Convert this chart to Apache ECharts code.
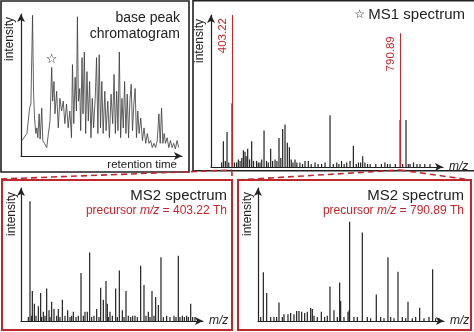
<!DOCTYPE html>
<html>
<head>
<meta charset="utf-8">
<script src="https://cdn.jsdelivr.net/npm/echarts@6/dist/echarts.min.js"></script>
<style>
html,body{margin:0;padding:0;background:#fff;}
#c{width:474px;height:332px;}
</style>
</head>
<body>
<div id="c"></div>
<script>
// ---- base peak chromatogram (retention time in arbitrary units, intensity in %) ----
const chromRT = [0,15,23,27,32,35,38,42,45,48,52,55,60,63,68,75,80,85,90,93,97,100,105,110,115,120,125,130,135,140,145,150,153,157,161,165,168,171,175,178,182,185,189,193,197,201,205,209,213,217,222,226,230,234,238,242,246,251,255,260,265,270,275,279,283,287,291,295,299,303,307,311,315,319,323,327,331,335,339,343,347,351,355,360,365,370,375,380,385,390,395,400,405,410,415,419,423,427,431,435,440,445,450,455,460,465,470,475];
const chromInt = [11,16,34,37,100,46,27,16,20,13,30,12,34,11,9,6,16,25,63,39,53,30,46,20,41,32,39,23,37,20,32,13,65,23,56,32,99,39,48,18,70,30,74,16,60,25,53,13,41,20,41,70,16,72,20,53,16,46,18,39,13,44,23,58,16,46,18,74,13,41,20,53,16,44,13,39,51,18,37,48,13,32,16,27,11,20,9,16,9,11,6,9,6,11,30,9,34,9,16,9,13,6,11,6,9,5,11,6];
const starRT = 90, starInt = 63;

// ---- MS1 spectrum ----
const ms1Mz  = [379.6,383.5,388,392,396,409,414,418,422,426,429.6,433.4,436,439.6,444,448.8,453,460,464,468,472,477.3,483,487,492.6,497,502.6,507,511.8,516,520.3,525.7,531,535.7,540,544,548.7,553,560,566,571.8,579.5,586,595,602,610,618,629.5,637,645,650,656,662,668,675.6,683.3,690,695,700,704.8,710,716,722,735,748,756,762,768,780,797,804.7,810,814,822,830,837,848,860];
const ms1Int = [3,17,4,23,3,3,3,5,4,6,11,10,7,12,5,17,4,4,3,3,5,24,4,3,12,4,5,4,19,6,25,28,16,13,5,3,5,3,3,2,4,4,2,3,2,2,3,34,2,3,2,4,2,3,4,14,2,3,3,7,3,2,2,2,2,3,2,2,2,2,31,2,2,3,2,2,2,2];
const precMz    = [403.22, 790.89];
const precInt   = [42, 31];
const precTop   = [100, 88];
const precLabel = ['403.22', '790.89'];

// ---- MS2 spectrum, precursor 403.22 ----
const ms2aMz  = [128.2,134.6,141,143.6,151.3,157.7,166.7,175.6,179.5,185.9,192.3,198.7,207.7,211.5,217.9,226.9,237.2,243.6,250,259,269.2,279.5,288.4,294.9,301.3,311.5,320.5,330.8,339.7,346.1,355.1,364.1,371.8,380.7,391,400,406.4,416.7,426.9,432,435.9,442.3,451.3,464.1,470.5,478.2,489.7,496.1,503.8,512.8,521.8,529.5,538.4,547.4,560.2,573,580.7,589.7,596.1,603.8,611.5,617.9,628.2,638.4,647.4,660.2,673,688.4,696.1,705.1,711.5,720.5,728.2,737.1,743.6,752.6,760.2,769.2];
const ms2aInt = [3,90,4,22.5,13,4,11,21,3,7,4,24.5,8,3,14.5,9,4,9,3,16,4,8,3,4,7,3,4,36,4,7,7,51.5,3,4,9,3,25,16,30,13,3,7,4,24.5,3,38,8,3,22.5,4,3,4,4,3,41.5,27,4,7,3,22.5,4,18,12,48,3,4,3,4,3,49,3,4,3,4,3,13,3,3];

// ---- MS2 spectrum, precursor 790.89 ----
const ms2bMz  = [121.4,143,170,202,229,250.5,269.3,296,309.6,341.9,363.4,390.2,411.7,430.6,452,476.3,497.8,524.6,538,551.5,578.4,610.7,637.5,659,680.5,712.8,739.7,758.5,766.6,793.4,825.7,835,839,874,901,941.3,981.6,1008.5,1054,1089,1116,1148,1170,1196.6,1229,1264,1290.7,1309.7,1344.5,1371.4,1403.6,1438.6,1479,1508.5,1532.6,1559.5];
const ms2bInt = [3,36.6,21,3,3,3,14,3,5,5,6,5,7.6,7.6,7,6,7,9.7,9,4,3,7,3,4,26,8,3,29,15,3,7,8,74.7,3,3,66.6,3,2,20,3,2,48,3,2,37,3,2,14.5,2,3,10,2,3,39,2,2];

const RED = '#c0272d';
const INK = '#222';

const zip = (a, b) => a.map((v, i) => [v, b[i]]);

function axisBase(extra) {
  return Object.assign({
    axisLine: { show: true, onZero: false, lineStyle: { color: INK, width: 1.2 }, symbol: ['none', 'arrow'], symbolSize: [6, 8] },
    axisTick: { show: false }, axisLabel: { show: false }, splitLine: { show: false }
  }, extra);
}
const mzName = { name: 'm/z', nameLocation: 'end', nameGap: 6, nameTextStyle: { fontStyle: 'italic', fontSize: 12, color: INK, fontFamily: 'Liberation Sans' } };

const ms1Data = zip(ms1Mz, ms1Int).map(d => ({ value: d }));
precMz.forEach((m, i) => ms1Data.push({ value: [m, precInt[i]], itemStyle: { color: '#a8141b' } }));

const chart = echarts.init(document.getElementById('c'), null, { renderer: 'canvas' });
chart.setOption({
  animation: false,
  textStyle: { fontFamily: 'Liberation Sans' },
  grid: [
    { left: 21, top: 14, width: 161, height: 142 },
    { left: 211, top: 15, width: 232, height: 152 },
    { left: 21, top: 188, width: 182, height: 133 },
    { left: 258, top: 188, width: 186, height: 133 }
  ],
  xAxis: [
    axisBase({ type: 'value', gridIndex: 0, min: -3, max: 485 }),
    axisBase(Object.assign({ type: 'value', gridIndex: 1, min: 355, max: 890 }, mzName)),
    axisBase(Object.assign({ type: 'value', gridIndex: 2, min: 100, max: 800 }, mzName)),
    axisBase(Object.assign({ type: 'value', gridIndex: 3, min: 100, max: 1600 }, mzName))
  ],
  yAxis: [
    axisBase({ type: 'value', gridIndex: 0, min: 0, max: 101 }),
    axisBase({ type: 'value', gridIndex: 1, min: 0, max: 100 }),
    axisBase({ type: 'value', gridIndex: 2, min: 0, max: 100 }),
    axisBase({ type: 'value', gridIndex: 3, min: 0, max: 100 })
  ],
  series: [
    {
      type: 'line', xAxisIndex: 0, yAxisIndex: 0, data: zip(chromRT, chromInt),
      showSymbol: false, lineStyle: { color: '#3a3a3a', width: 0.8 },
      markPoint: {
        symbolSize: 0,
        label: { show: true, formatter: '☆', position: 'top', distance: 1, fontSize: 13, color: INK, fontFamily: 'DejaVu Sans' },
        data: [{ coord: [starRT, starInt] }]
      }
    },
    {
      type: 'bar', xAxisIndex: 1, yAxisIndex: 1, data: ms1Data, barWidth: 1.2,
      itemStyle: { color: INK },
      markLine: {
        symbol: ['none', 'none'], silent: true,
        lineStyle: { color: RED, width: 1, type: 'solid' },
        label: { show: true, formatter: p => p.name, position: 'insideEndTop', distance: 3, color: RED, fontSize: 11.5, fontFamily: 'Liberation Sans' },
        data: precMz.map((m, i) => [{ coord: [m, 0], name: precLabel[i] }, { coord: [m, precTop[i]] }])
      }
    },
    { type: 'bar', xAxisIndex: 2, yAxisIndex: 2, data: zip(ms2aMz, ms2aInt), barWidth: 1.2, itemStyle: { color: INK } },
    { type: 'bar', xAxisIndex: 3, yAxisIndex: 3, data: zip(ms2bMz, ms2bInt), barWidth: 1.2, itemStyle: { color: INK } }
  ]
});

const p1 = chart.convertToPixel({ gridIndex: 1 }, [precMz[0], 0]);
const p2 = chart.convertToPixel({ gridIndex: 1 }, [precMz[1], 0]);
const jy = p1[1] + 3;

function txt(x, y, text, size, opts) {
  return Object.assign({ type: 'text', x: x, y: y, z: 10,
    style: Object.assign({ text: text, fontSize: size, fill: INK, fontFamily: 'Liberation Sans', align: 'right', verticalAlign: 'middle' }, (opts && opts.style) || {}) },
    opts && opts.rotation ? { rotation: opts.rotation } : {});
}
function vtxt(x, y, text) {
  return { type: 'text', x: x, y: y, rotation: Math.PI / 2, z: 10,
    style: { text: text, fontSize: 12, fill: INK, fontFamily: 'Liberation Sans', align: 'center', verticalAlign: 'middle' } };
}
function prec(x, y, val) {
  return { type: 'text', x: x, y: y, z: 10,
    style: { text: '{a|precursor }{b|m/z}{a| = ' + val + ' Th}', align: 'right', verticalAlign: 'middle',
      rich: { a: { fontSize: 12, fill: RED, color: RED, fontFamily: 'Liberation Sans' }, b: { fontSize: 12, fill: RED, color: RED, fontStyle: 'italic', fontFamily: 'Liberation Sans' } } } };
}
function dash(x1, y1, x2, y2) {
  return { type: 'line', z: 5, shape: { x1: x1, y1: y1, x2: x2, y2: y2 }, style: { stroke: RED, lineWidth: 1.6, lineDash: [6, 4] } };
}

chart.setOption({
  graphic: [
    { type: 'rect', shape: { x: 1, y: 1, width: 188, height: 171 }, style: { fill: 'none', stroke: INK, lineWidth: 1.6 } },
    { type: 'rect', shape: { x: 193, y: 0.8, width: 290, height: 170 }, style: { fill: 'none', stroke: INK, lineWidth: 1.6 } },
    { type: 'rect', shape: { x: 2, y: 180, width: 230, height: 150 }, style: { fill: 'none', stroke: RED, lineWidth: 2 } },
    { type: 'rect', shape: { x: 238, y: 180, width: 233, height: 150 }, style: { fill: 'none', stroke: RED, lineWidth: 2 } },
    dash(1, 179, p1[0], jy), dash(p1[0], jy, 232, 180),
    dash(238, 180, p2[0], jy), dash(p2[0], jy, 471, 180),
    txt(180, 18, 'base peak', 14),
    txt(180, 34, 'chromatogram', 14),
    txt(177, 165, 'retention time', 11.5),
    vtxt(10, 39, 'intensity'),
    vtxt(200, 41, 'intensity'),
    vtxt(12, 214, 'intensity'),
    vtxt(248, 214, 'intensity'),
    { type: 'text', x: 465, y: 15, z: 10, style: { text: '{s|☆} {t|MS1 spectrum}', align: 'right', verticalAlign: 'middle',
      rich: { s: { fontSize: 12, fontFamily: 'DejaVu Sans', fill: INK, color: INK }, t: { fontSize: 15, fontFamily: 'Liberation Sans', fill: INK, color: INK } } } },
    txt(227, 196, 'MS2 spectrum', 15),
    prec(227, 211, '403.22'),
    txt(464, 196, 'MS2 spectrum', 15),
    prec(464, 211, '790.89')
  ]
});
</script>
</body>
</html>
